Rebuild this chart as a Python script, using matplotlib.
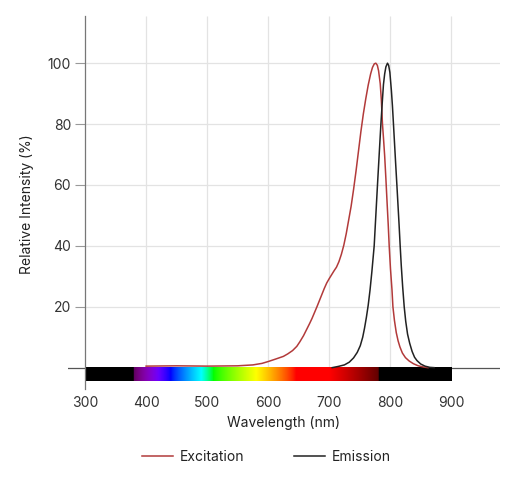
import matplotlib
matplotlib.use("Agg")
import matplotlib.pyplot as plt
import numpy as np

plt.rcParams['font.family'] = ['Inter', 'DejaVu Sans']

# spectra (wavelength nm, relative intensity %)
ex_wl = [400, 450, 500, 550, 575, 590, 600, 612, 625, 632, 640, 647, 652, 658,
         663, 668, 672, 676, 680, 684, 688, 692, 696, 700, 704, 708, 712, 716,
         720, 724, 728, 732, 736, 740, 744, 748, 752, 756, 760, 764,
         768, 771, 774, 776.5, 779, 781, 783.7, 785.5, 787.4, 789,
         791, 793, 795, 796.8, 798.4, 800.5, 803, 804.5, 807, 810, 813, 816, 820,
         825, 831, 838, 846, 855, 862]
ex_val = [0.5, 0.6, 0.5, 0.6, 0.9, 1.4, 2.0, 2.8, 3.7, 4.5, 5.6, 7.0, 8.5, 10.5,
          12.5, 14.5, 16.2, 18.1, 20.0, 22.0, 24.0, 26.0, 27.8, 29.2, 30.5, 31.8,
          33.0, 34.8, 37.2, 40.2, 44.0, 48.5, 53.0, 58.5, 64.5, 71.0, 77.5, 83.3,
          88.3, 92.8, 96.5, 98.6, 99.8, 100.0, 99.3, 97.5, 93.3, 88.0,
          80.0, 75.5, 69.5, 62.0, 54.0, 47.0, 40.0, 32.5, 25.5, 20.0, 15.5, 11.5,
          8.8, 6.8, 4.8, 3.3, 2.2, 1.3, 0.6, 0.2, 0.0]

em_wl = [705, 715, 725, 733, 740, 746, 751, 755, 758, 761, 764, 767, 770, 773.8,
         776.5, 779.2, 782, 784.8, 787, 789, 791, 793, 795.6, 797.5, 799.5, 802,
         803.7, 805.4, 807.2, 809, 811, 812.8, 814.6, 816.4, 818.2, 820.5, 823,
         825.5, 828.5, 832, 836, 840, 844, 850, 857, 865, 872]
em_val = [0.0, 0.4, 0.9, 1.8, 3.2, 5.0, 7.2, 10.0, 13.0, 16.5, 20.5, 25.5, 31.5,
          40.0, 50.0, 60.0, 70.0, 80.0, 87.0, 93.0, 96.5, 98.8, 100.0, 99.3, 97.0,
          91.0, 86.0, 80.0, 73.5, 67.0, 60.0, 53.5, 47.0, 40.0, 33.5, 26.5, 20.0,
          15.2, 11.0, 8.0, 5.3, 3.4, 2.3, 1.2, 0.5, 0.1, 0.0]

x_ticks = [300, 400, 500, 600, 700, 800, 900]
y_ticks = [20, 40, 60, 80, 100]


def wavelength_to_rgb(wl, gamma=0.8):
    # visible spectrum colour for the strip under the axis
    if 380 <= wl < 440:
        r, g, b = -(wl - 440) / 60, 0.0, 1.0
    elif 440 <= wl < 490:
        r, g, b = 0.0, (wl - 440) / 50, 1.0
    elif 490 <= wl < 510:
        r, g, b = 0.0, 1.0, -(wl - 510) / 20
    elif 510 <= wl < 580:
        r, g, b = (wl - 510) / 70, 1.0, 0.0
    elif 580 <= wl < 645:
        r, g, b = 1.0, -(wl - 645) / 65, 0.0
    elif 645 <= wl <= 780:
        r, g, b = 1.0, 0.0, 0.0
    else:
        r, g, b = 0.0, 0.0, 0.0
    if 380 <= wl < 420:
        f = 0.3 + 0.7 * (wl - 380) / 40
    elif 420 <= wl < 700:
        f = 1.0
    elif 700 <= wl <= 780:
        f = 0.3 + 0.7 * (780 - wl) / 80
    else:
        f = 0.0
    return [(c * f) ** gamma if c > 0 else 0.0 for c in (r, g, b)]


fig = plt.figure(figsize=(5.25, 4.78), dpi=100)
ax = fig.add_axes([68 / 525, 1 - 392 / 478, 432 / 525, 376 / 478])

ax.set_xlim(272, 980)
ax.set_ylim(-8, 115.5)

for s in ['top', 'right', 'bottom']:
    ax.spines[s].set_visible(False)
ax.spines['left'].set_position(('data', 300))
ax.spines['left'].set_bounds(-7, 115.5)
ax.spines['left'].set_color('#777777')
ax.spines['left'].set_linewidth(0.9)

# grid
ax.vlines(x_ticks[1:], 0, 115.5, color='#e3e3e3', lw=0.9, zorder=0)
ax.hlines(y_ticks, 300, 980, color='#e3e3e3', lw=0.9, zorder=0)
ax.axhline(0, color='#555555', lw=0.9, zorder=1)

# spectrum strip
wls = np.arange(300, 901, 1)
strip = np.array([[wavelength_to_rgb(w) for w in wls]])
ax.imshow(strip, extent=(300, 900, -4.4, 0), aspect='auto', zorder=2,
          interpolation='bilinear')

ax.plot(ex_wl, ex_val, color='#b23a3a', lw=1.1, zorder=3, label='Excitation')
ax.plot(em_wl, em_val, color='#222222', lw=1.1, zorder=3, label='Emission')

ax.set_xticks(x_ticks)
ax.set_yticks(y_ticks)
ax.tick_params(axis='x', length=0, pad=3, labelsize=10, labelcolor='#333333')
ax.tick_params(axis='y', length=7, width=0.8, color='#999999', pad=3,
               labelsize=10, labelcolor='#333333')

ax.set_xlabel('Wavelength (nm)', fontsize=10, color='#222222', labelpad=4.5)
ax.set_ylabel('Relative Intensity (%)', fontsize=10, color='#222222')
ax.yaxis.set_label_coords(-0.079, 0.5)

fig.legend(loc='center', bbox_to_anchor=(0.508, 0.044), ncol=2, frameon=False,
           fontsize=10, handlelength=2.2, handletextpad=0.5, columnspacing=3.6,
           labelcolor='#222222')

fig.savefig('out.png', dpi=100)
